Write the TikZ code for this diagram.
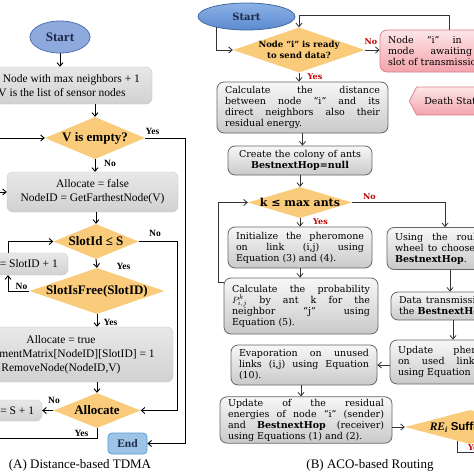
\documentclass[tikz,border=0pt]{standalone}
\usepackage{fontspec}
\setmainfont{Liberation Serif}
\newfontfamily\dvs{DejaVu Serif}
\newfontfamily\lsans{Liberation Sans}
\usepackage{xcolor}
\definecolor{startA}{HTML}{8EA9DB}
\definecolor{startAline}{HTML}{4F73B8}
\definecolor{startBtop}{HTML}{8CB2E6}
\definecolor{startBbot}{HTML}{5B8AD0}
\definecolor{startBline}{HTML}{41689F}
\definecolor{endfill}{HTML}{9DC3E6}
\definecolor{endline}{HTML}{5B9BD5}
\definecolor{navy}{HTML}{1F2A48}
\definecolor{dia}{HTML}{F9CB7A}
\definecolor{pinktop}{HTML}{FDE6E7}
\definecolor{pinkbot}{HTML}{F3A3AC}
\definecolor{pinkline}{HTML}{D9838F}
\definecolor{redlbl}{HTML}{C00000}
\usetikzlibrary{arrows.meta, shapes.geometric, shapes.symbols, positioning, calc}
\hyphenpenalty=10000 \exhyphenpenalty=10000 \tolerance=9999

\begin{document}
\begin{tikzpicture}[x=1pt, y=-1pt,
  boxA/.style={rectangle, rounded corners=6pt, draw=gray!45, top color=gray!18, bottom color=gray!36,
    inner sep=2pt, align=center, font=\fontsize{11.5}{14}\selectfont},
  boxB/.style={rectangle, rounded corners=7pt, draw=black!60, line width=0.8pt, top color=gray!6,
    bottom color=gray!42, inner xsep=8pt, inner ysep=2pt, align=justify,
    font=\dvs\fontsize{9.5}{11}\selectfont},
  dia/.style={diamond, fill=dia, inner sep=0pt},
  diaA/.style={font=\fontsize{13}{15}\selectfont\bfseries},
  diaB/.style={font=\dvs\fontsize{8.5}{11}\selectfont\bfseries, align=center},
  lblA/.style={font=\fontsize{9.5}{10}\selectfont\bfseries, inner sep=0pt},
  lblB/.style={font=\dvs\fontsize{8}{9}\selectfont\bfseries, text=redlbl, inner sep=0pt},
  lineA/.style={line width=0.9pt, black},
  lineB/.style={line width=0.8pt, black!80},
  >={Straight Barb[length=3.5pt, width=6pt]}
]
  \useasboundingbox (0,0) rectangle (474,474);
  \fill[white] (0,0) rectangle (474,474);
  \clip (0,0) rectangle (474,474);

  % (A) Distance-based TDMA
  \node[ellipse, fill=startA, draw=startAline, line width=0.8pt, minimum width=60pt, minimum height=32pt,
    inner sep=0pt, text=navy, font=\fontsize{13}{15}\selectfont\bfseries] (startA) at (60,37) {Start};
  \node[boxA, minimum width=180pt, minimum height=37pt] (initA) at (62,85.5)
    {S = Node with max neighbors + 1\\V is the list of sensor nodes};
  \node[dia, minimum width=100pt, minimum height=42pt, label={[diaA]center:V is empty?}] (empty) at (95,138) {};
  \node[boxA, minimum width=171pt, minimum height=40pt] (pick) at (92.5,192)
    {Allocate = false\\NodeID = GetFarthestNode(V)};
  \node[dia, minimum width=85pt, minimum height=35pt, label={[diaA]center:SlotId ≤ S}] (slotle) at (96,241.5) {};
  \node[boxA, minimum width=112pt, minimum height=22pt] (incslot) at (12,264) {SlotID = SlotID + 1};
  \node[dia, minimum width=135pt, minimum height=46pt, label={[diaA]center:SlotIsFree(SlotID)}] (free) at (97,291) {};
  \node[boxA, minimum width=224pt, minimum height=55pt] (assign) at (61,354.5)
    {Allocate = true\\AssignmentMatrix[NodeID][SlotID] = 1\\RemoveNode(NodeID,V)};
  \node[dia, minimum width=87pt, minimum height=35pt, label={[diaA]center:Allocate}] (alloc) at (97,410.5) {};
  \node[boxA, minimum width=59pt, minimum height=21pt] (incS) at (12.5,410.5) {S = S + 1};
  \node[rectangle, rounded corners=4pt, fill=endfill, draw=endline, line width=0.8pt, minimum width=39pt,
    minimum height=21pt, inner sep=0pt, text=navy, font=\fontsize{11.5}{13}\selectfont\bfseries] (endA) at (127.5,443.5) {End};

  \coordinate (backA) at (-22,438);
  \coordinate (backB) at (-30,300);
  \draw[lineA, ->] (startA.south) -- (startA.south |- initA.north);
  \draw[lineA, ->] (empty.north |- initA.south) -- (empty.north);
  \draw[lineA, ->] (empty.east) -- ++(40,0) |- (endA.east);
  \draw[lineA, ->] (empty.south) -- (empty.south |- pick.north);
  \draw[lineA, ->] (slotle.north |- pick.south) -- (slotle.north);
  \draw[lineA, ->] (slotle.east) -- ++(39,0) |- (alloc.east);
  \draw[lineA, ->] (slotle.south) -- (free.north);
  \draw[lineA, ->] ([xshift=-4pt]incslot.north) |- (slotle.west);
  \draw[lineA, ->] (free.west) -| ([xshift=-4pt]incslot.south);
  \draw[lineA, ->] (free.south) -- (free.south |- assign.north);
  \draw[lineA, ->] (alloc.north |- assign.south) -- (alloc.north);
  \draw[lineA, ->] (alloc.west) -- (incS.east);
  \draw[lineA, ->] (alloc.south) |- (backA) |- (empty.west);
  \draw[lineA, ->] (incS.west) -| (backB) |- (pick.west);

  \node[lblA] (yesEmpty) at (152.5,131) {Yes};
  \node[lblA] (noEmpty) at (110,163) {No};
  \node[lblA] (noSlot) at (155,233) {No};
  \node[lblA] (yesSlot) at (123.5,266) {Yes};
  \node[lblA] (noFree) at (21.5,286) {No};
  \node[lblA] (yesFree) at (110.5,322) {Yes};
  \node[lblA] (noAlloc) at (54,400) {No};
  \node[lblA] (yesAlloc) at (81.5,433) {Yes};
  \node[font=\fontsize{13}{15}\selectfont] (capA) at (80,465) {(A) Distance-based TDMA};

  % (B) ACO-based Routing
  \node[ellipse, top color=startBtop, bottom color=startBbot, draw=startBline, line width=0.8pt,
    minimum width=97pt, minimum height=27pt, inner sep=0pt, text=navy,
    font=\dvs\fontsize{10}{12}\selectfont\bfseries] (startB) at (246.5,16.5) {Start};
  \node[dia, minimum width=132pt, minimum height=45pt,
    label={[diaB]center:{Node “i” is ready\\to send data?}}] (ready) at (299,50) {};
  \node[boxB, top color=pinktop, bottom color=pinkbot, draw=pinkline, text width=112pt, minimum height=42pt] (sleep) at (444,51)
    {Node “i” in sleep\linebreak mode awaiting its\linebreak slot of transmission.};
  \node[signal, signal to=west, signal pointer angle=125, top color=pinktop, bottom color=pinkbot, draw=pinkline,
    line width=0.8pt, minimum width=80pt, minimum height=28pt, inner sep=0pt,
    font=\dvs\fontsize{9.5}{11}\selectfont] (death) at (453,101) {Death State};
  \node[boxB, text width=155pt, minimum height=51pt] (dist) at (302.5,107.5)
    {Calculate the distance\linebreak between node “i” and its\linebreak direct neighbors also their\linebreak residual energy.};
  \node[boxB, text width=128pt, minimum height=29pt, align=center] (colony) at (300,160.5)
    {Create the colony of ants\\\textbf{BestnextHop=null}};
  \node[dia, minimum width=104pt, minimum height=31pt,
    label={[font=\dvs\fontsize{11}{13}\selectfont\bfseries]center:k ≤ max ants}] (kmax) at (300,202.5) {};
  \node[boxB, text width=128pt, minimum height=41pt] (pher) at (300,247.5)
    {Initialize the pheromone\linebreak on link (i,j) using\linebreak Equation (3) and (4).};
  \node[boxB, text width=138pt, minimum height=56pt] (prob) at (301,306)
    {Calculate the probability\linebreak $P^{k}_{i,j}$ by ant k for the\linebreak neighbor “j” using\linebreak Equation (5).};
  \node[boxB, text width=100pt, minimum height=42pt] (wheel) at (445,248.5)
    {Using the roulette\linebreak wheel to choose the\linebreak \textbf{BestnextHop}.};
  \node[boxB, text width=102pt, minimum height=28pt] (send) at (450,306)
    {Data transmission to\linebreak the \textbf{BestnextHop}.};
  \node[boxB, text width=110pt, minimum height=44pt] (upd) at (453,362)
    {Update pheromone\linebreak on used links (i,j)\linebreak using Equation (9).};
  \node[boxB, text width=130pt, minimum height=40pt] (evap) at (304,365)
    {Evaporation on unused\linebreak links (i,j) using Equation\linebreak (10).};
  \node[boxB, text width=156pt, minimum height=46pt] (energy) at (306,420)
    {Update of the residual\linebreak energies of node “i” (sender)\linebreak and \textbf{BestnextHop} (receiver)\linebreak using Equations (1) and (2).};
  \node[dia, minimum width=130pt, minimum height=34pt,
    label={[font=\fontsize{11.5}{13}\selectfont]center:{\bfseries\itshape RE\textsubscript{i}}~{\lsans\bfseries Sufficient?}}] (enough) at (470,427) {};

  \coordinate (yesOut) at (500,452);
  \draw[lineB, ->] (startB.200) |- (ready.west);
  \draw[lineB, ->] (ready.east) -- (ready.east -| sleep.west);
  \draw[lineB, ->] ([xshift=70pt]sleep.north west) |- ([yshift=12pt]ready.north) -- (ready.north);
  \draw[lineB, ->] (ready.south) -- (ready.south |- dist.north);
  \draw[lineB, ->] (dist.south) -- (dist.south |- colony.north);
  \draw[lineB, ->] (colony.south) -- (kmax.north);
  \draw[lineB, ->] (kmax.south) -- (pher.north);
  \draw[lineB, ->] (kmax.east) -| (wheel.north);
  \draw[lineB, ->] (pher.south) -- (pher.south |- prob.north);
  \draw[lineB, ->] ([yshift=-5pt]prob.north west) -- ++(-5,0) |- (kmax.west);
  \draw[lineB, ->] (send.north |- wheel.south) -- (send.north);
  \draw[lineB, ->] (upd.north |- send.south) -- (upd.north);
  \draw[lineB, ->] (evap.east -| upd.west) -- (evap.east);
  \draw[lineB, ->] ([xshift=-3pt]evap.south) -- ([xshift=-3pt]evap.south |- energy.north);
  \draw[lineB, ->] (enough.west -| energy.east) -- (enough.west);
  \draw[lineB] (enough.229) |- (yesOut);

  \node[lblB] (yesReady) at (315,77) {Yes};
  \node[lblB] (noReady) at (371,42) {No};
  \node[lblB] (yesK) at (320.5,222) {Yes};
  \node[lblB] (noK) at (369.5,197) {No};
  \node[lblB, anchor=west] (yesRE) at (468,448) {Yes};
  \node[font=\fontsize{13}{15}\selectfont] (capB) at (370,465) {(B) ACO-based Routing};
\end{tikzpicture}
\end{document}
